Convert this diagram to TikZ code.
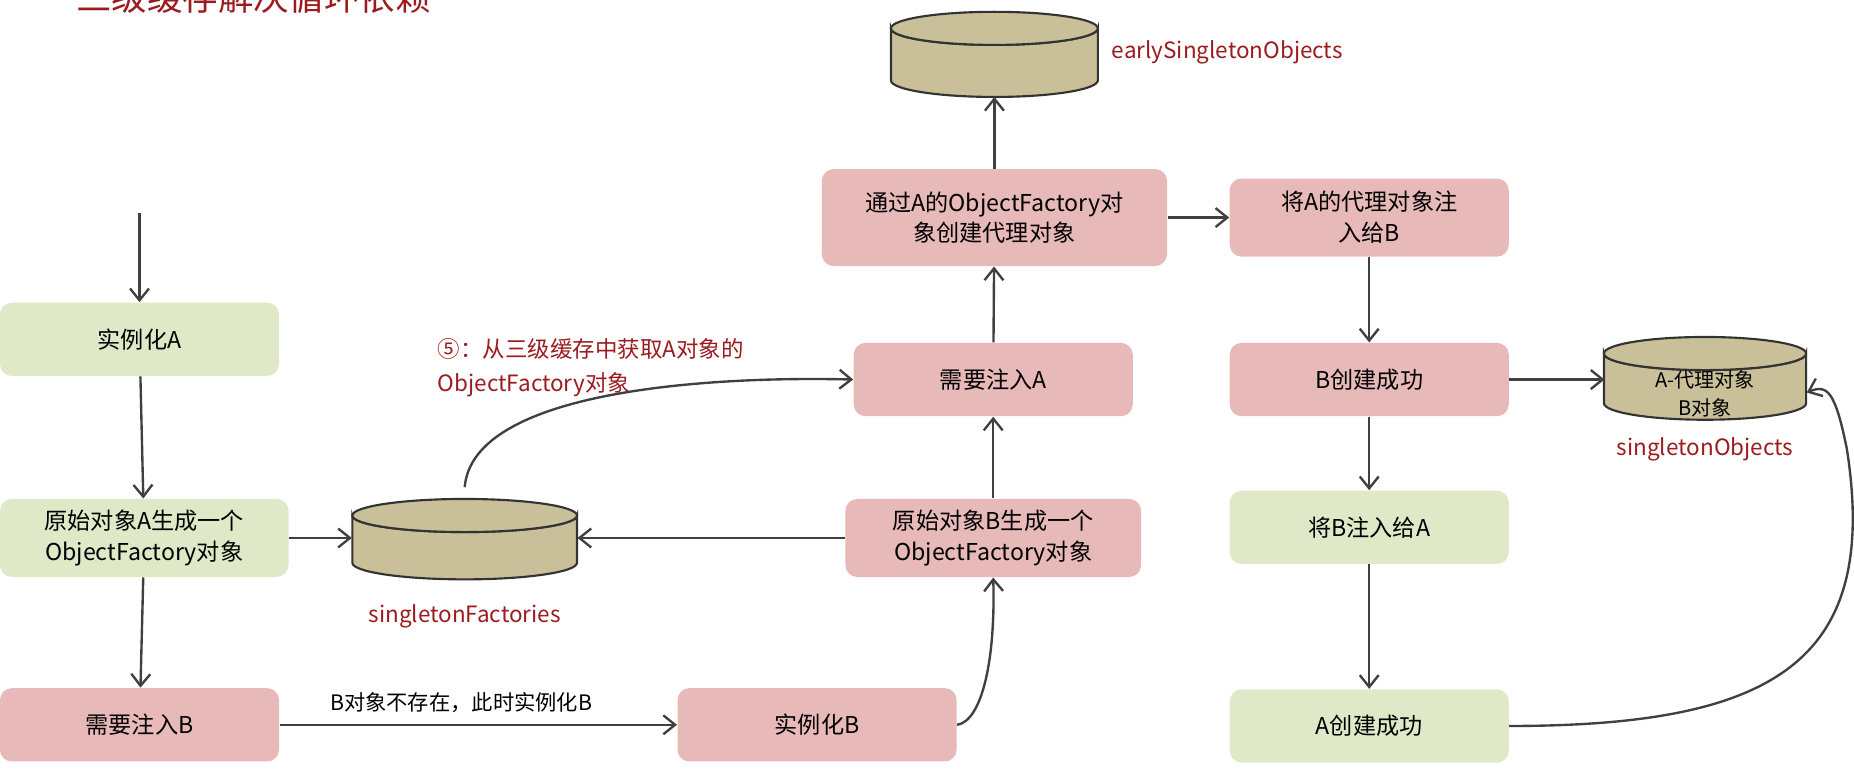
\documentclass[tikz,border=0pt]{standalone}
\usepackage{fontspec}
\setmainfont{Noto Sans CJK SC}
\usetikzlibrary{arrows.meta}
\definecolor{gbox}{HTML}{DFE9C8}
\definecolor{pbox}{HTML}{E8B9B9}
\definecolor{cylc}{HTML}{C9C09A}
\definecolor{dred}{HTML}{9B1B1E}
\definecolor{lc}{HTML}{404040}
\begin{document}
\begin{tikzpicture}[x=0.5pt,y=-0.5pt,
  box/.style={rectangle,rounded corners=5pt,minimum width=118pt,minimum height=31pt,align=center,font=\fontsize{9.8}{13}\selectfont,inner sep=1pt},
  gb/.style={box,fill=gbox},
  pb/.style={box,fill=pbox},
  lbl/.style={text=dred,font=\fontsize{9.5}{14.5}\selectfont,inner sep=0pt},
  arr/.style={draw=lc,line width=1pt,-{Straight Barb[length=5pt,width=8pt]}},
  cylst/.style={fill=cylc,draw=black!80,line width=0.9pt}]
\useasboundingbox (0,0) rectangle (1568,656);
\newcommand\mycyl[5]{%
  \filldraw[cylst] ({#1-#3/2},{#2-#4/2+#5}) -- ({#1-#3/2},{#2+#4/2-#5})
    arc[start angle=180,end angle=0,x radius={#3/2},y radius=#5]
    -- ({#1+#3/2},{#2-#4/2+#5})
    arc[start angle=0,end angle=180,x radius={#3/2},y radius=#5] -- cycle;
  \draw[cylst] (#1,{#2-#4/2+#5}) ellipse[x radius={#3/2},y radius=#5];}
\node[anchor=base west,text=dred,font=\fontsize{15}{15}\selectfont,inner sep=0pt] (title) at (64,9) {三级缓存解决循环依赖};
% cylinders
\mycyl{841}{46}{175}{72}{14}
\node[inner sep=0pt,minimum width=87pt,minimum height=36pt] (early) at (841,46) {};
\node[lbl,anchor=west] (earlyl) at (940,44) {earlySingletonObjects};
\mycyl{393}{456}{190}{68}{14}
\node[inner sep=0pt,minimum width=95pt,minimum height=34pt] (sf) at (393,456) {};
\node[lbl] (sfl) at (393,521) {singletonFactories};
\mycyl{1442}{320}{171}{70}{14}
\node[inner sep=0pt,minimum width=85pt,minimum height=35pt,align=center,font=\fontsize{8.5}{12}\selectfont] (so) at (1442,333) {A-代理对象\\B对象};
\node[lbl] (sol) at (1442,380) {singletonObjects};
% boxes
\node[gb] (ia) at (118,287) {实例化A};
\node[gb,minimum width=122pt,minimum height=33pt] (oa) at (122,455) {原始对象A生成一个\\ObjectFactory对象};
\node[pb] (nb) at (118,613) {需要注入B};
\node[pb] (ib) at (691,613) {实例化B};
\node[pb,minimum width=125pt,minimum height=33pt] (ob) at (840,455) {原始对象B生成一个\\ObjectFactory对象};
\node[pb] (na) at (840,321) {需要注入A};
\node[pb,minimum width=146pt,minimum height=41pt] (cp) at (841,184) {通过A的ObjectFactory对\\象创建代理对象};
\node[pb,minimum height=33pt] (ja) at (1158,184) {将A的代理对象注\\入给B};
\node[pb] (bc) at (1158,321) {B创建成功};
\node[gb] (jb) at (1158,446) {将B注入给A};
\node[gb] (ac) at (1158,614) {A创建成功};
% labels
\node[lbl,anchor=west,align=left] (l5) at (370,311) {⑤：从三级缓存中获取A对象的\\ObjectFactory对象};
\node[anchor=base,font=\fontsize{9}{10}\selectfont,inner sep=0pt] (lb) at (390,601) {B对象不存在，此时实例化B};
% connectors
\coordinate (st) at (118,180);
\draw[arr] (st) -- (ia);
\draw[arr] (ia) -- (oa);
\draw[arr] (oa) -- (nb);
\draw[arr] (oa.east) -- (sf.west|-oa.east);
\draw[arr] (nb) -- (ib);
\draw[arr] (ib.east) .. controls (830,610) and (842,560) .. (ob.south);
\draw[arr] (ob.west) -- (sf.east|-ob.west);
\draw[arr] (393,412) .. controls (400,330) and (600,318) .. (na.west);
\draw[arr] (ob) -- (na);
\draw[arr] (na) -- (cp);
\draw[arr] (cp) -- (early.south|-0,82);
\draw[arr] (cp.east|-ja) -- (ja);
\draw[arr] (ja) -- (bc);
\draw[arr] (bc) -- (1357,321);
\draw[arr] (bc) -- (jb);
\draw[arr] (jb) -- (ac);
\draw[arr] (ac.east) .. controls (1500,614) and (1590,560) .. (1562,380) .. controls (1552,330) and (1545,325) .. (1528,332);
\end{tikzpicture}
\end{document}
